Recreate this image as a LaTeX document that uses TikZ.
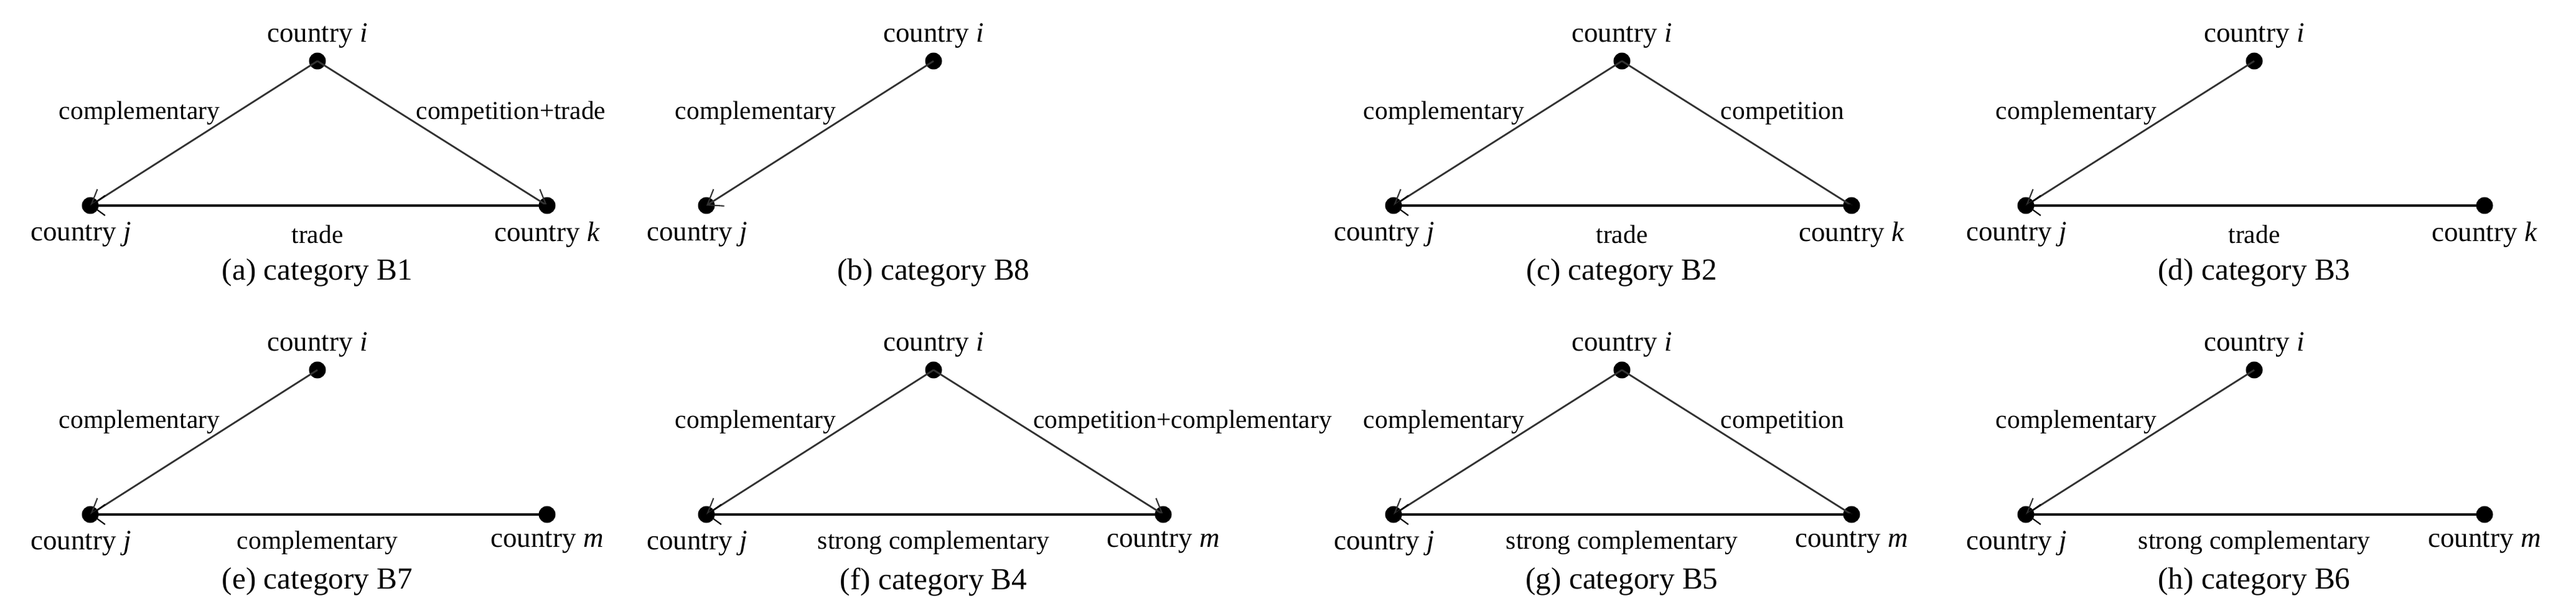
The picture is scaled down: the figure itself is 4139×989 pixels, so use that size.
\documentclass[tikz,border=0pt]{standalone}
\usepackage{fontspec}
\setmainfont{Liberation Serif}
\usetikzlibrary{arrows.meta}
\tikzset{
 dot/.style={circle,fill=black,inner sep=0pt,minimum size=0.27cm},
 lab/.style={font=\fontsize{12.8}{15}\selectfont,inner sep=0pt},
 elab/.style={font=\fontsize{11.8}{14}\selectfont,inner sep=0pt},
 captext/.style={font=\fontsize{14}{17}\selectfont,inner sep=0pt},
 sedge/.style={line width=0.8pt,draw=black!80},
 base/.style={line width=1.4pt},
 tip/.style={-{Straight Barb[length=0.22cm,width=0.32cm,line width=0.6pt]}}
}
\begin{document}
\begin{tikzpicture}[x=0.01cm,y=-0.01cm]
\useasboundingbox (0,0) rectangle (4139,989);
% (a)
\begin{scope}[shift={(510,98)}]
 \node[dot] (i) at (0,0) {};
 \node[dot] (j) at (-365,232) {};
 \node[dot] (k) at (369,232) {};
 \node[lab,anchor=south] (li) at (0,-20) {country \textit{i}};
 \node[lab,anchor=north] (lj) at (-380,258) {country \textit{j}};
 \node[lab,anchor=north] (lk) at (369,258) {country \textit{k}};
 \draw[sedge,tip] (i.center) -- (j.center);
 \draw[sedge,tip] (i.center) -- (k.center);
 \draw[base,tip] (k.center) -- (j.center);
 \node[elab] at (-286,84) {complementary};
 \node[elab] at (311,84) {competition+trade};
 \node[elab] at (0,278) {trade};
 \node[captext] at (0,340) {(a) category B1};
\end{scope}
% (b)
\begin{scope}[shift={(1500,98)}]
 \node[dot] (i) at (0,0) {};
 \node[dot] (j) at (-365,232) {};
 \node[lab,anchor=south] (li) at (0,-20) {country \textit{i}};
 \node[lab,anchor=north] (lj) at (-380,258) {country \textit{j}};
 \draw[sedge,tip] (i.center) -- (j.center);
 \node[elab] at (-286,84) {complementary};
 \node[captext] at (0,340) {(b) category B8};
\end{scope}
% (c)
\begin{scope}[shift={(2606,98)}]
 \node[dot] (i) at (0,0) {};
 \node[dot] (j) at (-367,232) {};
 \node[dot] (k) at (369,232) {};
 \node[lab,anchor=south] (li) at (0,-20) {country \textit{i}};
 \node[lab,anchor=north] (lj) at (-382,258) {country \textit{j}};
 \node[lab,anchor=north] (lk) at (369,258) {country \textit{k}};
 \draw[sedge,tip] (i.center) -- (j.center);
 \draw[sedge] (i.center) -- (k.center);
 \draw[base,tip] (k.center) -- (j.center);
 \node[elab] at (-286,84) {complementary};
 \node[elab] at (258,84) {competition};
 \node[elab] at (0,278) {trade};
 \node[captext] at (0,340) {(c) category B2};
\end{scope}
% (d)
\begin{scope}[shift={(3622,98)}]
 \node[dot] (i) at (0,0) {};
 \node[dot] (j) at (-367,232) {};
 \node[dot] (k) at (370,232) {};
 \node[lab,anchor=south] (li) at (0,-20) {country \textit{i}};
 \node[lab,anchor=north] (lj) at (-382,258) {country \textit{j}};
 \node[lab,anchor=north] (lk) at (370,258) {country \textit{k}};
 \draw[sedge,tip] (i.center) -- (j.center);
 \draw[base,tip] (k.center) -- (j.center);
 \node[elab] at (-286,84) {complementary};
 \node[elab] at (0,278) {trade};
 \node[captext] at (0,340) {(d) category B3};
\end{scope}
% (e)
\begin{scope}[shift={(510,594)}]
 \node[dot] (i) at (0,0) {};
 \node[dot] (j) at (-365,232) {};
 \node[dot] (m) at (369,232) {};
 \node[lab,anchor=south] (li) at (0,-20) {country \textit{i}};
 \node[lab,anchor=north] (lj) at (-380,258) {country \textit{j}};
 \node[lab,anchor=north] (lm) at (369,258) {country \textit{m}};
 \draw[sedge,tip] (i.center) -- (j.center);
 \draw[base,tip] (m.center) -- (j.center);
 \node[elab] at (-286,84) {complementary};
 \node[elab] at (0,278) {complementary};
 \node[captext] at (0,340) {(e) category B7};
\end{scope}
% (f)
\begin{scope}[shift={(1500,594)}]
 \node[dot] (i) at (0,0) {};
 \node[dot] (j) at (-365,232) {};
 \node[dot] (m) at (369,232) {};
 \node[lab,anchor=south] (li) at (0,-20) {country \textit{i}};
 \node[lab,anchor=north] (lj) at (-380,258) {country \textit{j}};
 \node[lab,anchor=north] (lm) at (369,258) {country \textit{m}};
 \draw[sedge,tip] (i.center) -- (j.center);
 \draw[sedge,tip] (i.center) -- (m.center);
 \draw[base,tip] (m.center) -- (j.center);
 \node[elab] at (-286,84) {complementary};
 \node[elab] at (400,84) {competition+complementary};
 \node[elab] at (0,278) {strong complementary};
 \node[captext] at (0,340) {(f) category B4};
\end{scope}
% (g)
\begin{scope}[shift={(2606,594)}]
 \node[dot] (i) at (0,0) {};
 \node[dot] (j) at (-367,232) {};
 \node[dot] (m) at (369,232) {};
 \node[lab,anchor=south] (li) at (0,-20) {country \textit{i}};
 \node[lab,anchor=north] (lj) at (-382,258) {country \textit{j}};
 \node[lab,anchor=north] (lm) at (369,258) {country \textit{m}};
 \draw[sedge,tip] (i.center) -- (j.center);
 \draw[sedge] (i.center) -- (m.center);
 \draw[base,tip] (m.center) -- (j.center);
 \node[elab] at (-286,84) {complementary};
 \node[elab] at (258,84) {competition};
 \node[elab] at (0,278) {strong complementary};
 \node[captext] at (0,340) {(g) category B5};
\end{scope}
% (h)
\begin{scope}[shift={(3622,594)}]
 \node[dot] (i) at (0,0) {};
 \node[dot] (j) at (-367,232) {};
 \node[dot] (m) at (370,232) {};
 \node[lab,anchor=south] (li) at (0,-20) {country \textit{i}};
 \node[lab,anchor=north] (lj) at (-382,258) {country \textit{j}};
 \node[lab,anchor=north] (lm) at (370,258) {country \textit{m}};
 \draw[sedge,tip] (i.center) -- (j.center);
 \draw[base,tip] (m.center) -- (j.center);
 \node[elab] at (-286,84) {complementary};
 \node[elab] at (0,278) {strong complementary};
 \node[captext] at (0,340) {(h) category B6};
\end{scope}
\end{tikzpicture}
\end{document}
